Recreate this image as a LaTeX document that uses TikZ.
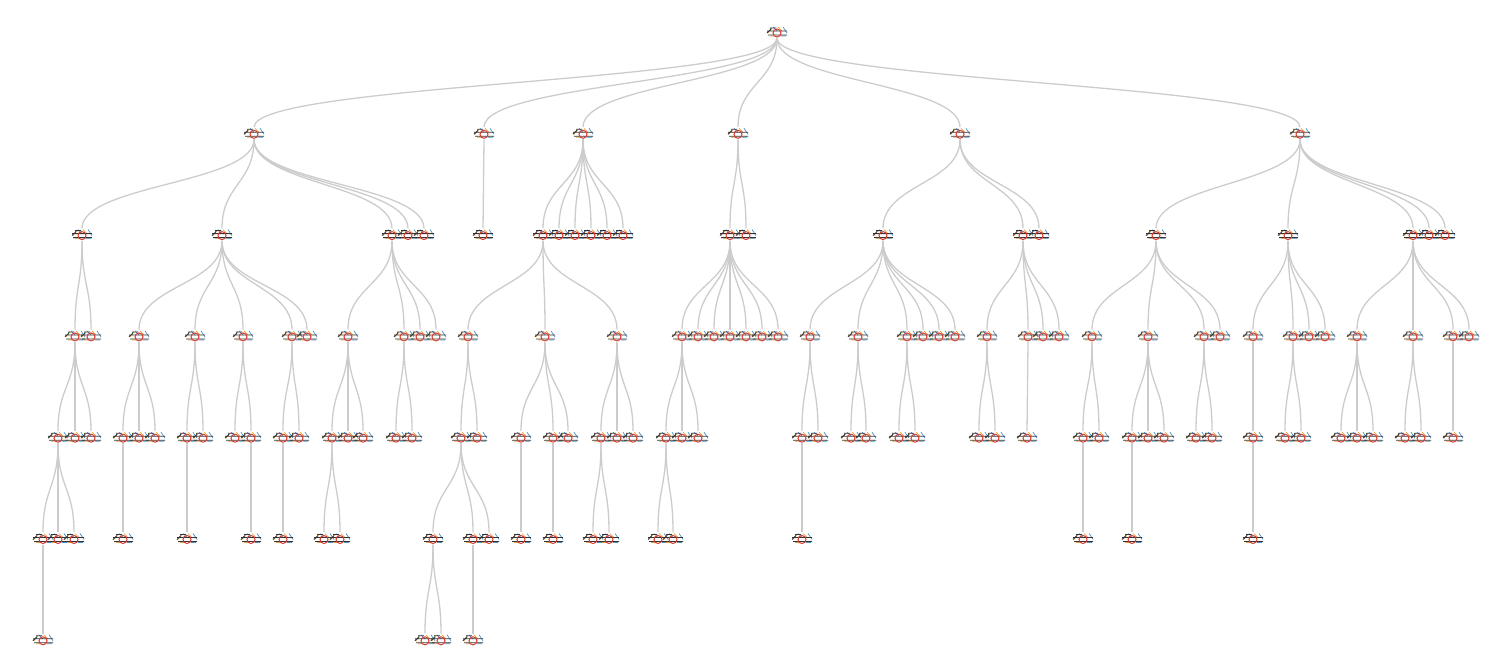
\documentclass[tikz,border=0pt]{standalone}
\usetikzlibrary{backgrounds}
\definecolor{edgegray}{HTML}{CCCCCC}
\definecolor{icdark}{HTML}{333333}
\definecolor{icorange}{HTML}{E8A33C}
\definecolor{icblue}{HTML}{4A90C8}
\definecolor{icred}{HTML}{D63B30}
\tikzset{
  icon/.style={inner sep=0pt, minimum width=20pt, minimum height=12pt},
  edge/.style={draw=edgegray, line width=1.3pt},
  glyph/.pic={
    \draw[icorange, line width=0.7pt] (-9,1)--(-5,-4) (1,-5)--(5,-1) (-7,4)--(-3,4);
    \draw[icblue, line width=0.7pt] (-4,-5)--(0,-1) (6,-5)--(10,1) (4,4)--(9,4);
    \draw[icdark, line width=0.8pt] (-10,-1)--(10,-1) (-9,3)--(10,3) (-7,-4)--(-1,-4) (-10,1)--(-6,-3);
    \draw[icred, line width=1pt] (0,1) circle (4);
  }
}
\begin{document}
\begin{tikzpicture}[x=1pt,y=-1pt]
\useasboundingbox (0,0) rectangle (1511,663);
\node[icon] (r) at (777,32) {};
\pic at (777,32) {glyph};
\foreach \n/\x/\l/\p in {
 a/254/1/r, b/484/1/r, c/583/1/r, d/738/1/r, e/960/1/r, f/1300/1/r,
 a1/82/2/a, a2/222/2/a, a3/392/2/a, a4/408/2/a, a5/424/2/a, b1/483/2/b,
 c1/543/2/c, c2/559/2/c, c3/575/2/c, c4/591/2/c, c5/607/2/c, c6/623/2/c,
 d1/730/2/d, d2/746/2/d, e1/883/2/e, e2/1023/2/e, e3/1039/2/e,
 f1/1156/2/f, f2/1288/2/f, f3/1413/2/f, f4/1429/2/f, f5/1445/2/f,
 g1/75/3/a1, g2/91/3/a1, g3/139/3/a2, g4/195/3/a2, g5/243/3/a2, g6/292/3/a2, g7/307/3/a2,
 g8/348/3/a3, g9/404/3/a3, g10/420/3/a3, g11/436/3/a3,
 g12/468/3/c1, g13/545/3/c1, g14/617/3/c1,
 g15/682/3/d1, g16/698/3/d1, g17/714/3/d1, g18/730/3/d1, g19/746/3/d1, g20/762/3/d1, g21/778/3/d1,
 g22/810/3/e1, g23/858/3/e1, g24/907/3/e1, g25/923/3/e1, g26/939/3/e1, g27/955/3/e1,
 g28/987/3/e2, g29/1028/3/e2, g30/1043/3/e2, g31/1059/3/e2,
 g32/1092/3/f1, g33/1148/3/f1, g34/1204/3/f1, g35/1220/3/f1,
 g36/1253/3/f2, g37/1293/3/f2, g38/1309/3/f2, g39/1325/3/f2,
 g40/1357/3/f3, g41/1413/3/f3, g42/1453/3/f3, g43/1469/3/f3,
 h1/58/4/g1, h2/75/4/g1, h3/91/4/g1, h4/123/4/g3, h5/139/4/g3, h6/155/4/g3,
 h7/187/4/g4, h8/203/4/g4, h9/235/4/g5, h10/251/4/g5, h11/283/4/g6, h12/299/4/g6,
 h13/332/4/g8, h14/348/4/g8, h15/363/4/g8, h16/396/4/g9, h17/412/4/g9,
 h18/461/4/g12, h19/477/4/g12, h20/521/4/g13, h21/553/4/g13, h22/568/4/g13,
 h23/601/4/g14, h24/617/4/g14, h25/633/4/g14, h26/666/4/g15, h27/682/4/g15, h28/698/4/g15,
 h29/802/4/g22, h30/818/4/g22, h31/851/4/g23, h32/866/4/g23, h33/899/4/g24, h34/915/4/g24,
 h35/979/4/g28, h36/995/4/g28, h37/1027/4/g29,
 h38/1083/4/g32, h39/1099/4/g32, h40/1132/4/g33, h41/1148/4/g33, h42/1164/4/g33,
 h43/1196/4/g34, h44/1212/4/g34, h45/1253/4/g36, h46/1285/4/g37, h47/1301/4/g37,
 h48/1341/4/g40, h49/1357/4/g40, h50/1373/4/g40, h51/1405/4/g41, h52/1421/4/g41, h53/1453/4/g42,
 i1/43/5/h1, i2/58/5/h1, i3/74/5/h1, i4/123/5/h4, i5/187/5/h7, i6/251/5/h10, i7/283/5/h11,
 i8/324/5/h13, i9/340/5/h13, i10/433/5/h18, i11/473/5/h18, i12/489/5/h18,
 i13/521/5/h20, i14/553/5/h21, i15/593/5/h23, i16/609/5/h23, i17/658/5/h26, i18/673/5/h26,
 i19/802/5/h29, i20/1083/5/h38, i21/1132/5/h40, i22/1253/5/h45,
 j1/43/6/i1, j2/425/6/i10, j3/441/6/i10, j4/473/6/i11}
{
  \pgfmathsetmacro{\yy}{32+101.3*\l}
  \node[icon] (\n) at (\x,\yy) {};
  \pic at (\x,\yy) {glyph};
  \begin{scope}[on background layer]
    \draw[edge] (\p.south) .. controls +(0,44) and +(0,-44) .. (\n.north);
  \end{scope}
}
\end{tikzpicture}
\end{document}
